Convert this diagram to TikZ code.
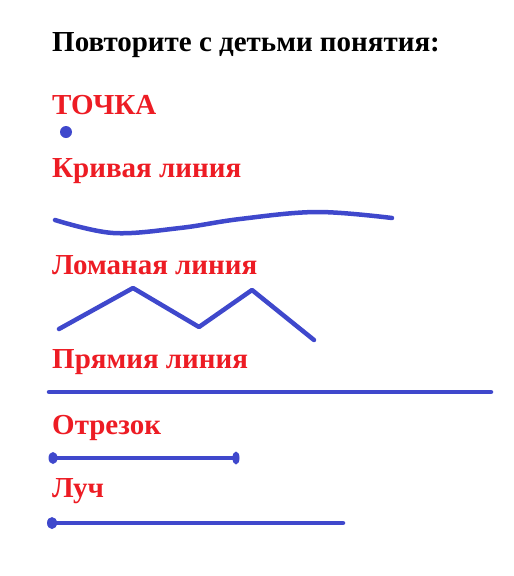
\documentclass[tikz,border=0pt]{standalone}
\usepackage{fontspec}
\setmainfont{Liberation Serif}
\definecolor{pblue}{HTML}{3F48CC}
\definecolor{pred}{HTML}{ED1C24}
\begin{document}
\begin{tikzpicture}[x=1pt,y=-1pt,
  lbl/.style={anchor=base west,inner sep=0pt,font=\fontsize{29}{33}\selectfont\bfseries,text=pred},
  ttl/.style={anchor=base west,inner sep=0pt,font=\fontsize{29}{33}\selectfont\bfseries,text=black},
  ln/.style={draw=pblue,line width=4.5pt,line cap=round,line join=round},
  dotm/.style={fill=pblue}]
\useasboundingbox (0,0) rectangle (514,576);
\node[ttl] (title) at (52,51) {Повторите с детьми понятия:};
\node[lbl] (l1) at (52,114) {ТОЧКА};
\fill[dotm] (66,132) circle (6);
\node[lbl] (l2) at (52,177) {Кривая линия};
\draw[ln] plot[smooth,tension=0.6] coordinates {(55,220) (113,233) (180,228) (240,219) (317,212) (392,218)};
\node[lbl] (l3) at (52,274) {Ломаная линия};
\draw[ln] (59,329) -- (133,288) -- (199,327) -- (252,290) -- (314,340);
\node[lbl] (l4) at (52,368) {Прямия линия};
\draw[ln] (49,392) -- (491,392);
\node[lbl] (l5) at (52,434) {Отрезок};
\coordinate (sa) at (53,458);
\coordinate (sb) at (236,458);
\draw[ln] (sa) -- (sb);
\fill[dotm] (sa) ellipse (4.5 and 6);
\fill[dotm] (sb) ellipse (3.5 and 6.5);
\node[lbl] (l6) at (52,497) {Луч};
\coordinate (ra) at (52,523);
\coordinate (rb) at (343,523);
\draw[ln] (ra) -- (rb);
\fill[dotm] (ra) ellipse (5 and 6);
\end{tikzpicture}
\end{document}
